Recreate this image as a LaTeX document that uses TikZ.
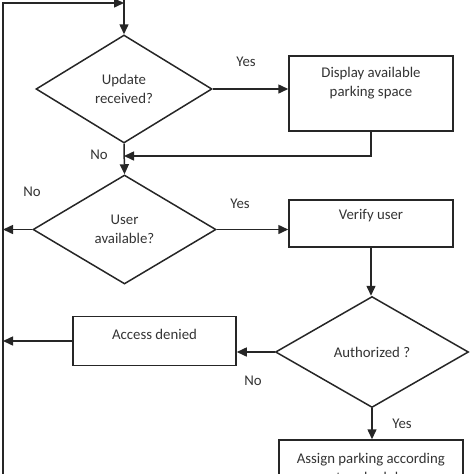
\documentclass[tikz,border=0pt]{standalone}
\usepackage{fontspec}
\setmainfont{Carlito}
\usetikzlibrary{shapes.geometric}
\usetikzlibrary{arrows.meta}

\begin{document}
\begin{tikzpicture}[x=1pt,y=-1pt,
  every node/.style={font=\fontsize{14.8pt}{19.5pt}\selectfont,text=black!80},
  decision/.style={diamond,draw=black!85,line width=1.5pt,inner sep=0pt,align=center},
  process/.style={rectangle,draw=black!85,line width=1.5pt,inner sep=0pt},
  flow/.style={draw=black!85,line width=1.5pt,-{Triangle[length=10pt,width=9pt]}}]
\useasboundingbox (0,0) rectangle (474,474);
\clip (0,0) rectangle (474,474);
\node[decision,minimum width=176,minimum height=108] (upd) at (124,89) {Update\\received?};
\node[process,minimum width=164,minimum height=75] (disp) at (371,93.5) {};
\node[align=center] (dispt) at (371,83) {Display available\\parking space};
\node[decision,minimum width=183,minimum height=109] (user) at (124.5,229.5) {User\\available?};
\node[process,minimum width=164,minimum height=47] (ver) at (371,223.5) {};
\node (vert) at (371,216) {Verify user};
\node[decision,minimum width=193,minimum height=111] (auth) at (372,352) {Authorized ?};
\node[process,minimum width=163,minimum height=49] (deny) at (154.5,341) {};
\node (denyt) at (154.5,334) {Access denied};
\node[process,minimum width=184,minimum height=60] (asgn) at (370.8,470) {};
\node[align=center] (asgnt) at (370.8,468) {Assign parking according\\to schedule};
\coordinate (lbot) at (3,480);
\coordinate (ltop) at (124,3);
\coordinate (in) at (124,-2);
\coordinate (merge) at (124,156);
\draw[flow] (lbot) |- (ltop);
\draw[flow] (in) -- (upd.north);
\draw[flow] (upd.east) -- (upd.east -| disp.west);
\draw[flow] (disp.south) |- (merge);
\draw[flow] (upd.south) -- (user.north);
\draw[flow] (user.west) -- (user.west -| lbot);
\draw[flow] (user.east) -- (user.east -| ver.west);
\draw[flow] (ver.south) -- (ver.south |- auth.north);
\draw[flow] (auth.west) -- (auth.west -| deny.east);
\draw[flow] (deny.west) -- (deny.west -| lbot);
\draw[flow] (auth.south) -- (auth.south |- asgn.north);
\node (yes1) at (246,62) {Yes};
\node (no1) at (99,155) {No};
\node (no2) at (32,192) {No};
\node (yes2) at (240,204) {Yes};
\node (no3) at (253,381) {No};
\node (yes3) at (402,424) {Yes};
\end{tikzpicture}
\end{document}
